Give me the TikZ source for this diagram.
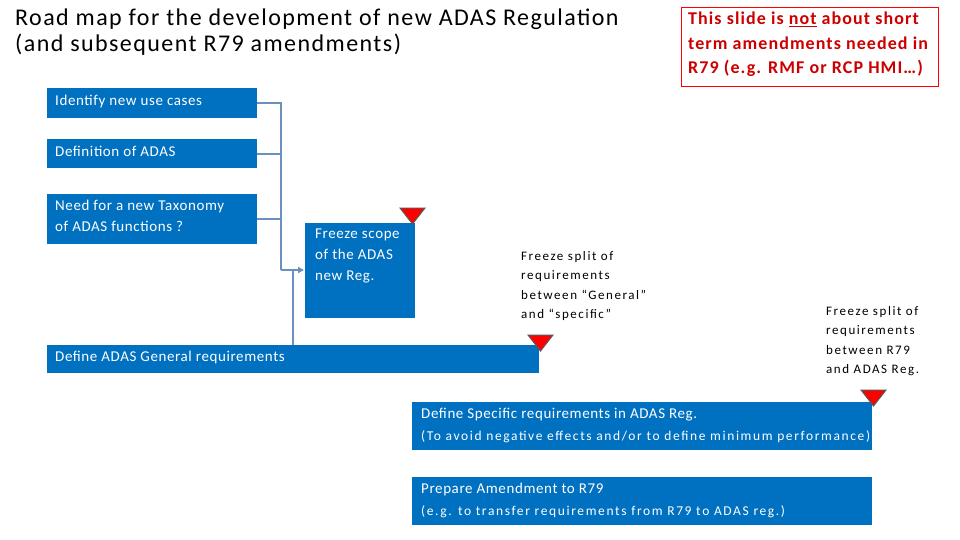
\documentclass[tikz,border=0pt]{standalone}
\usepackage{fontspec}
\setmainfont{Carlito}
\usetikzlibrary{arrows.meta}
\definecolor{bb}{HTML}{0070C0}
\definecolor{ln}{HTML}{6A8FC0}
\newcommand{\ls}[1]{\addfontfeatures{LetterSpace=#1}}
\begin{document}
\begin{tikzpicture}[x=1pt,y=-1pt,
  bx/.style={fill=bb,draw=none,inner sep=0pt},
  bt/.style={text=white,font=\fontsize{15}{21}\selectfont\ls{4},anchor=north west,align=left,inner sep=0pt},
  sub/.style={text=white,font=\fontsize{13.5}{16}\selectfont\ls{12},anchor=north west,align=left,inner sep=0pt},
  lab/.style={font=\fontsize{13}{19.5}\selectfont\ls{12},anchor=north west,align=left,inner sep=0pt},
  con/.style={draw=ln,line width=1.5pt},
  tri/.style={fill=red,draw=gray!70!black,line width=1pt,line join=miter}]
\useasboundingbox (0,0) rectangle (960,540);
\node[anchor=north west,inner sep=0pt,align=left,font=\fontsize{24}{26}\selectfont\ls{6}] (title) at (15,9) {Road map for the development of new ADAS Regulation\\(and subsequent R79 amendments)};
\node[draw=red,line width=0.8pt,minimum width=257pt,minimum height=79pt,anchor=north west] (note) at (681,7) {};
\node[anchor=north west,inner sep=0pt,align=left,text=red!80!black,font=\bfseries\fontsize{18}{24.5}\selectfont\ls{6}] (notet) at (688,12) {This slide is \underline{not} about short\\term amendments needed in\\R79 (e.g. RMF or RCP HMI\dots)};
% boxes
\fill[bb] (47,88) rectangle (257,118); \node[bt] (b1) at (55,95) {Identify new use cases};
\fill[bb] (47,139) rectangle (257,168); \node[bt] (b2) at (55,146) {Definition of ADAS};
\fill[bb] (47,194) rectangle (257,244); \node[bt] (b3) at (55,200) {Need for a new Taxonomy\\of ADAS functions ?};
\fill[bb] (305,223) rectangle (415,318); \node[bt] (b4) at (315,229) {Freeze scope\\of the ADAS\\new Reg.};
\fill[bb] (47,345) rectangle (539,373); \node[bt] (b5) at (55,351) {Define ADAS General requirements};
\fill[bb] (412,402) rectangle (872,450); \node[bt] (b6) at (421,408) {Define Specific requirements in ADAS Reg.};
\node[sub] (b6s) at (421,430) {(To avoid negative effects and/or to define minimum performance)};
\fill[bb] (412,477) rectangle (872,525); \node[bt] (b7) at (421,483) {Prepare Amendment to R79};
\node[sub] (b7s) at (421,505) {(e.g. to transfer requirements from R79 to ADAS reg.)};
% connectors
\coordinate (j1) at (281,103); \coordinate (j2) at (281,270); \coordinate (a) at (304,270);
\draw[con] (257,103) -- (j1) -- (j2);
\draw[con] (257,154) -- (281,154);
\draw[con] (257,219) -- (281,219);
\draw[con,-{Triangle[length=6pt,width=6pt]}] (j2) -- (a);
\draw[con] (293,345) -- (293,270);
% labels
\node[lab] (l1) at (521,251) {Freeze split of\\requirements\\between ``General''\\and ``specific''};
\node[lab] (l2) at (826,306) {Freeze split of\\requirements\\between R79\\and ADAS Reg.};
% triangles
\draw[tri] (400,208) -- (425,208) -- (412.5,224) -- cycle;
\draw[tri] (528,335) -- (553,335) -- (540.5,351) -- cycle;
\draw[tri] (861,390) -- (886,390) -- (873.5,406) -- cycle;
\end{tikzpicture}
\end{document}
